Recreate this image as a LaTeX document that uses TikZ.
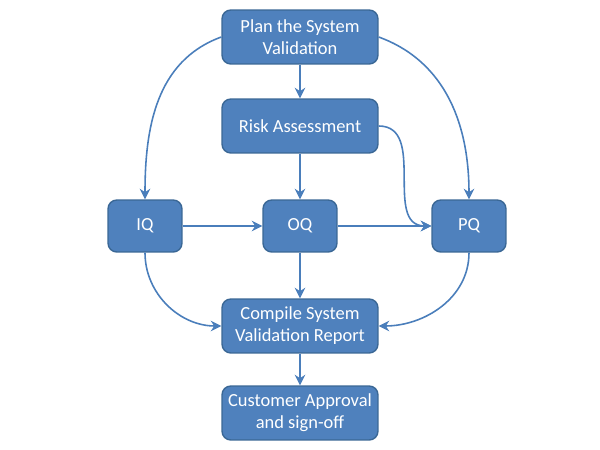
\documentclass[tikz,border=0pt]{standalone}
\usepackage{fontspec}
\setmainfont{Carlito}
\usetikzlibrary{arrows.meta}
\definecolor{bfill}{HTML}{4F81BD}
\definecolor{bdraw}{HTML}{3A6795}
\definecolor{arr}{HTML}{4A7EBB}
\begin{document}
\begin{tikzpicture}[x=0.02cm,y=-0.02cm,
  box/.style={draw=bdraw,line width=0.8pt,fill=bfill,rounded corners=5pt,text=white,font=\fontsize{10.5}{12.5}\selectfont,align=center,inner sep=0pt},
  wide/.style={box,minimum width=3.12cm,minimum height=1.08cm},
  small/.style={box,minimum width=1.48cm,minimum height=1.04cm},
  ar/.style={draw=arr,line width=0.9pt,-{Stealth[length=6pt,width=6pt]}}]
\useasboundingbox (0,0) rectangle (600,450);
\node[wide] (plan) at (300,37) {Plan the System\\Validation};
\node[wide] (risk) at (300,126) {Risk Assessment};
\node[small] (iq) at (145,226) {IQ};
\node[small] (oq) at (300,226) {OQ};
\node[small] (pq) at (469,226) {PQ};
\node[wide] (comp) at (300,326) {Compile System\\Validation Report};
\node[wide] (cust) at (300,413) {Customer Approval\\and sign-off};
\draw[ar] (plan) -- (risk);
\draw[ar] (risk) -- (oq);
\draw[ar] (iq) -- (oq);
\draw[ar] (oq) -- (pq);
\draw[ar] (oq) -- (comp);
\draw[ar] (comp) -- (cust);
\draw[ar] (plan.west) to[out=200,in=90] (iq.north);
\draw[ar] (plan.east) to[out=-20,in=90] (pq.north);
\draw[ar] (risk.east) to[out=0,in=180,looseness=1.1] (pq.west);
\draw[ar] (iq.south) to[out=-90,in=180] (comp.west);
\draw[ar] (pq.south) to[out=-90,in=0] (comp.east);
\end{tikzpicture}
\end{document}
